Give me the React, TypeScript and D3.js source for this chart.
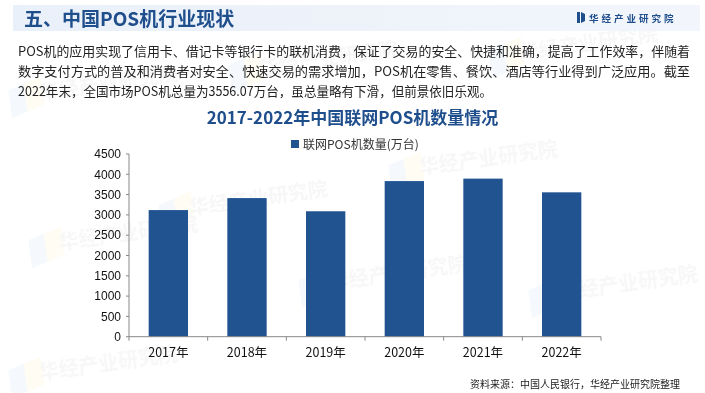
import React from "react";
import * as d3 from "d3";

const categories = ["2017年", "2018年", "2019年", "2020年", "2021年", "2022年"];
const values = [3118.86, 3414.31, 3089.28, 3833.03, 3893.61, 3556.07];
const yTicks = [0, 500, 1000, 1500, 2000, 2500, 3000, 3500, 4000, 4500];
const seriesName = "联网POS机数量(万台)";
const chartTitle = "2017-2022年中国联网POS机数量情况";
const pageTitle = "五、中国POS机行业现状";
const brand = "华经产业研究院";
const paragraph = [
  "POS机的应用实现了信用卡、借记卡等银行卡的联机消费，保证了交易的安全、快捷和准确，提高了工作效率，伴随着",
  "数字支付方式的普及和消费者对安全、快速交易的需求增加，POS机在零售、餐饮、酒店等行业得到广泛应用。截至",
  "2022年末，全国市场POS机总量为3556.07万台，虽总量略有下滑，但前景依旧乐观。",
];
const source = "资料来源：中国人民银行，华经产业研究院整理";

const W = 705;
const H = 393;
const cjk = "'Noto Sans CJK SC', 'Noto Sans', sans-serif";
const latin = "'Liberation Sans', Arial, sans-serif";
const blue = "#1f4e8c";
const barColor = "#215391";

export default function App() {
  const left = 129;
  const right = 601;
  const top = 154;
  const bottom = 336.7;

  const x = d3.scaleBand<string>().domain(categories).range([left, right]).paddingInner(0.5).paddingOuter(0.25);
  const xb = d3.scaleBand<string>().domain(categories).range([left, right]);
  const y = d3.scaleLinear().domain([0, 4500]).range([bottom, top]);

  const watermarks = [
    { x: 40, y: 100 },
    { x: 190, y: 215 },
    { x: 420, y: 175 },
    { x: 560, y: 300 },
    { x: 60, y: 250 },
    { x: 330, y: 290 },
    { x: 40, y: 380 },
    { x: 520, y: 60 },
    { x: 260, y: 75 },
  ];

  return (
    <svg
      width={W}
      height={H}
      viewBox={`0 0 ${W} ${H}`}
      style={{ position: "fixed", left: 0, top: 0, background: "#fff" }}
    >
      <defs>
        <linearGradient id="hdr" x1="0" x2="1" y1="0" y2="0">
          <stop offset="0" stopColor="#eaf0f9" />
          <stop offset="1" stopColor="#f2f6fc" />
        </linearGradient>
      </defs>
      <rect x={0} y={0} width={W} height={H} fill="#ffffff" />

      {/* watermarks */}
      <g opacity={0.06}>
        {watermarks.map((w, i) => (
          <g key={i} transform={`translate(${w.x},${w.y}) rotate(-8)`}>
            <rect x={-30} y={-22} width={22} height={28} fill="#5b8fd0" transform="skewY(-15)" />
            <rect x={-14} y={-22} width={18} height={28} fill="#f3c84a" transform="skewY(-15)" />
            <text x={0} y={0} fontFamily={cjk} fontSize={20} fontWeight={700} fill="#777">
              {brand}
            </text>
          </g>
        ))}
      </g>

      {/* header */}
      <rect x={13} y={5} width={687} height={26} fill="url(#hdr)" />
      <text x={24} y={25.5} fontFamily={cjk} fontSize={19} fontWeight={700} fill={blue}>
        {pageTitle}
      </text>
      <rect x={577} y={12} width={3} height={11} fill={blue} />
      <path d="M581,12 L585,14 L585,21 L581,23 Z" fill={blue} />
      <text x={589} y={22} fontFamily={cjk} fontSize={9.5} fontWeight={700} fill={blue} letterSpacing={3}>
        {brand}
      </text>

      {/* paragraph */}
      {paragraph.map((line, i) => (
        <text
          key={i}
          x={18}
          y={55.5 + i * 20.3}
          fontFamily={cjk}
          fontSize={13}
          fill="#222"
          textLength={i < 2 ? 672 : 474}
          lengthAdjust="spacingAndGlyphs"
        >
          {line}
        </text>
      ))}

      {/* chart title */}
      <text x={352.5} y={124} textAnchor="middle" fontFamily={cjk} fontSize={17} fontWeight={700} fill={blue}>
        {chartTitle}
      </text>

      {/* legend */}
      <rect x={291} y={140} width={8} height={8} fill={barColor} />
      <text x={303} y={148.5} fontFamily={cjk} fontSize={12} fill="#333">
        {seriesName}
      </text>

      {/* y axis */}
      <line x1={left} x2={left} y1={top} y2={bottom} stroke="#888" strokeWidth={1} />
      {yTicks.map((t) => (
        <g key={t}>
          <line x1={left - 3} x2={left} y1={y(t)} y2={y(t)} stroke="#888" />
          <text
            x={121}
            y={y(t)}
            dy="0.35em"
            textAnchor="end"
            fontFamily={latin}
            fontSize={12}
            fill="#111"
          >
            {t}
          </text>
        </g>
      ))}

      {/* bars */}
      {categories.map((c, i) => (
        <rect
          key={c}
          x={x(c)!}
          y={y(values[i])}
          width={x.bandwidth()}
          height={bottom - y(values[i])}
          fill={barColor}
        />
      ))}

      {/* x axis */}
      <line x1={left} x2={right} y1={bottom} y2={bottom} stroke="#888" strokeWidth={1} />
      {categories.map((c) => (
        <line key={c} x1={xb(c)! + xb.bandwidth()} x2={xb(c)! + xb.bandwidth()} y1={bottom} y2={bottom + 4} stroke="#888" />
      ))}
      <line x1={left} x2={left} y1={bottom} y2={bottom + 4} stroke="#888" />
      {categories.map((c) => (
        <text
          key={c}
          x={xb(c)! + xb.bandwidth() / 2}
          y={357}
          textAnchor="middle"
          fontFamily={cjk}
          fontSize={12.5}
          fill="#111"
        >
          {c}
        </text>
      ))}

      {/* source */}
      <text x={680} y={388} textAnchor="end" fontFamily={cjk} fontSize={10} fill="#222">
        {source}
      </text>
    </svg>
  );
}
